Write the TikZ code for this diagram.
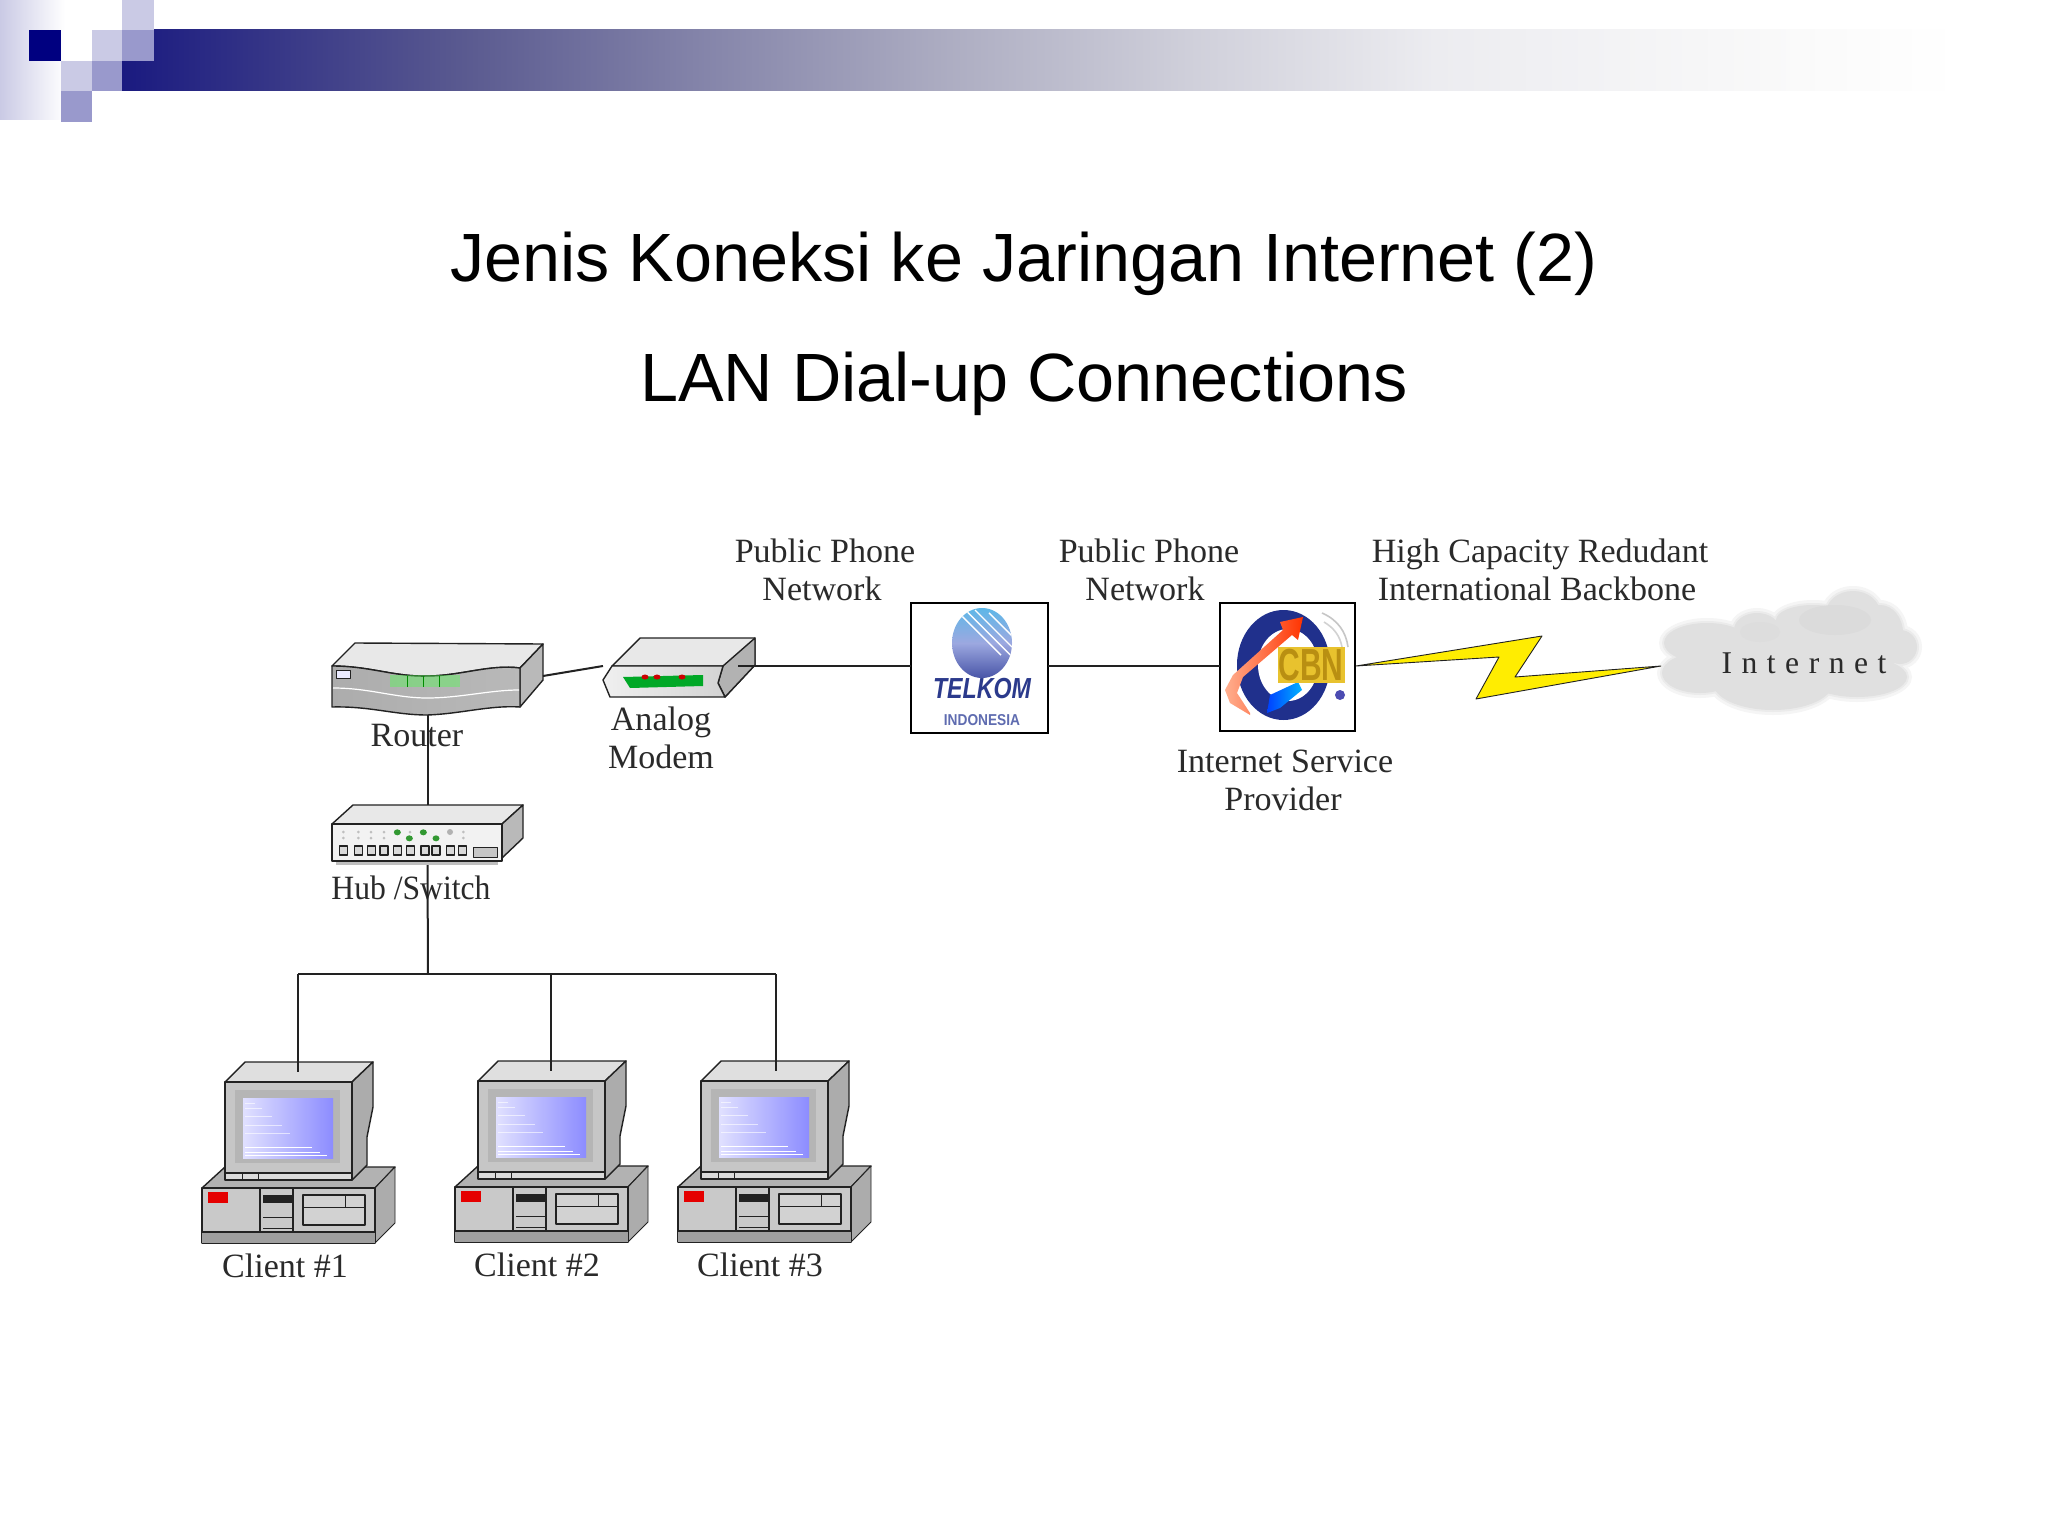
\documentclass[tikz,border=0pt]{standalone}
\usepackage{fontspec}
\setmainfont{Liberation Serif}
\newfontfamily\titlefont{Liberation Sans}
\usetikzlibrary{calc}
\definecolor{navy}{HTML}{000080}
\definecolor{lightsq}{HTML}{CACAE5}
\definecolor{midsq}{HTML}{9999CC}
\definecolor{ink}{HTML}{222222}
\definecolor{txt}{HTML}{2A2A2A}
\definecolor{bna}{HTML}{1A1A80}
\definecolor{bnb}{HTML}{5A5A90}
\definecolor{bnc}{HTML}{8585AA}
\definecolor{bnd}{HTML}{ADADC2}
\definecolor{bne}{HTML}{CFCFDA}
\definecolor{bnf}{HTML}{ECECF0}
\definecolor{bng}{HTML}{FAFAFA}
\definecolor{telkomdark}{HTML}{2B3A8C}
\definecolor{telkomlight}{HTML}{5F6CB0}
\definecolor{globetop}{HTML}{5AB8E8}
\definecolor{globemid}{HTML}{9CA8E0}
\definecolor{globebot}{HTML}{4450A4}
\definecolor{cbnyellow}{HTML}{E8C22E}
\definecolor{cbntext}{HTML}{B98F12}
\definecolor{ringblue}{HTML}{20308C}
\pgfdeclarehorizontalshading{bannerfade}{100bp}{color(0bp)=(bna); color(25bp)=(bna); color(34.3bp)=(bnb); color(40.9bp)=(bnc); color(47.5bp)=(bnd); color(54bp)=(bne); color(60.7bp)=(bnf); color(70.6bp)=(bng); color(75bp)=(white); color(100bp)=(white)}
\pgfdeclareverticalshading{globefade}{100bp}{color(0bp)=(globebot); color(25bp)=(globebot); color(50bp)=(globemid); color(75bp)=(globetop); color(100bp)=(globetop)}
\tikzset{
  devbox/.style 2 args={minimum width=#1*0.5mm,minimum height=#2*0.5mm,inner sep=0pt,outer sep=0pt},
  wire/.style={draw=ink,line width=1mm},
  outline/.style={draw=ink,line width=0.7mm,line join=round},
  thin outline/.style={draw=ink,line width=0.45mm,line join=round},
  lbl/.style={text=txt,inner sep=0pt,anchor=base,font=\fontsize{48.4}{50}\selectfont},
  titletext/.style={text=black,inner sep=0pt,anchor=base,font=\titlefont\fontsize{97.2}{100}\selectfont},
  logobox/.style 2 args={devbox={#1}{#2},draw=black,line width=1mm,fill=white},
  pcunit/.pic={
    \path[outline,fill=gray!60] (225,1167) -- (202,1188) -- (375,1188) -- (395,1167) -- cycle;
    \path[thin outline,fill=gray!65] (375,1188) -- (395,1167) -- (395,1223) -- (375,1243) -- cycle;
    \path[outline,fill=gray!42] (202,1188) rectangle (375,1243);
    \fill[gray!75] (202,1232) rectangle (375,1243);
    \draw[outline] (202,1232) -- (375,1232);
    \fill[red!90!black] (208,1192) rectangle (228,1203);
    \draw[outline] (260,1188) -- (260,1232);
    \draw[outline] (293,1188) -- (293,1232);
    \fill[ink] (263,1195) rectangle (292,1203);
    \draw[thin outline] (263,1217) -- (293,1217) (263,1228) -- (293,1228);
    \path[outline,fill=gray!35] (303,1195) rectangle (365,1225);
    \draw[thin outline] (303,1207) -- (365,1207) (345,1195) -- (345,1207);
    \path[outline,fill=gray!25] (245,1062) -- (225,1082) -- (352,1082) -- (373,1062) -- cycle;
    \path[outline,fill=gray!65] (352,1082) -- (373,1062) -- (373,1107) -- (367,1137) -- (367,1165) -- (352,1180) -- cycle;
    \path[outline,fill=gray!45] (225,1082) rectangle (352,1173);
    \path[outline,fill=gray!28] (225,1173) rectangle (352,1180);
    \draw[thin outline] (242,1173) -- (242,1180) (258,1173) -- (258,1180);
    \fill[gray!58] (235,1090) rectangle (340,1163);
    \shade[left color=blue!12!white,right color=blue!45!white] (243,1098) rectangle (333,1158);
    \draw[white,line width=0.5mm] (245,1147) -- (312,1147) (245,1152) -- (320,1152) (245,1155) -- (327,1155);
    \draw[white,opacity=.6,line width=0.4mm] (245,1103) -- (255,1103) (245,1108) -- (262,1108) (245,1116) -- (272,1116) (245,1125) -- (282,1125) (245,1133) -- (290,1133);
    \node[devbox={193}{181}] (-box) at (298.5,1152.5) {};
    \coordinate (-top) at (298,1072);
  }
}
\begin{document}
\begin{tikzpicture}[x=0.5mm,y=-0.5mm]
\useasboundingbox (0,0) rectangle (2048,1536);
\fill[white] (0,0) rectangle (2048,1536);
% --- slide decoration
\shade[left color=lightsq,right color=white] (0,0) rectangle (65,120);
\shade[shading=bannerfade] (122,30) rectangle (1960,91);
\fill[navy] (29,30) rectangle (61,61);
\fill[lightsq] (122,0) rectangle (154,30);
\fill[midsq] (122,30) rectangle (154,61);
\fill[lightsq] (92,30) rectangle (122,61);
\fill[lightsq] (61,61) rectangle (92,91);
\fill[midsq] (92,61) rectangle (122,91);
\fill[midsq] (61,91) rectangle (92,122);
% --- title
\node[titletext] (title1) at (1024,282) {Jenis Koneksi ke Jaringan Internet (2)};
\node[titletext] (title2) at (1024,401) {LAN Dial-up Connections};
% --- anchors for devices
\node[devbox={211}{72}] (router) at (437.5,679) {};
\node[devbox={152}{60}] (modem) at (679,666) {};
\node[devbox={191}{60}] (switch) at (427.5,835) {};
\coordinate (bus) at (428,974);
% --- cloud
\foreach \lay/\gr/\gap in {1/8/5,2/16/2,3/24/0} {
  \foreach \cx/\cy/\rx/\ry in {1707/643/43/20,1757/630/23/17,1813/620/37/15,1853/613/27/22,1880/633/23/28,1900/647/17/17,1857/677/50/20,1773/683/60/27,1700/673/38/20,1807/653/93/30}
    \fill[gray!\gr] (\cx,\cy) ellipse [x radius=\rx+\gap,y radius=\ry+\gap];
}
\fill[gray!28] (1835,620) ellipse [x radius=36,y radius=15];
\fill[gray!27] (1760,632) ellipse [x radius=20,y radius=10];
\node[devbox={255}{120}] (cloud) at (1789,651) {};
\node[lbl,font=\fontsize{45}{47}\selectfont\addfontfeature{LetterSpace=30}] (internet) at (1804,673) {Internet};
% --- router
\path[outline,fill=gray!18] (332,666) -- (355,643) -- (543,644) -- (520,668) .. controls (490,664) and (460,676) .. (427,676) .. controls (395,677) and (370,666) .. cycle;
\path[outline,fill=gray!55] (520,668) -- (543,644) -- (543,680) -- (520,707) -- cycle;
\path[outline,left color=gray!65,middle color=gray!12,right color=gray!55] (332,666) .. controls (370,666) and (395,677) .. (427,676) .. controls (460,676) and (490,664) .. (520,668) -- (520,707) .. controls (490,705) and (460,714) .. (427,715) .. controls (395,715) and (370,706) .. (332,707) -- cycle;
\draw[white,line width=0.6mm] (333,688) .. controls (370,688) and (395,698) .. (427,698) .. controls (460,698) and (490,690) .. (519,690);
\path[thin outline,fill=blue!8] (336,670) rectangle (350,678);
\fill[green!70!white,opacity=.4] (390,675) rectangle (460,687);
\foreach \x in {407,423,439} \draw[green!55!black,line width=0.5mm] (\x,676) -- (\x,687);
% --- modem
\path[outline,fill=gray!18] (612,666) -- (640,638) -- (755,638) -- (755,665) -- (725,697) -- (718,683) -- (723,666) -- cycle;
\path[outline,fill=gray!60] (723,666) -- (755,638) -- (755,665) -- (725,697) -- (718,683) -- cycle;
\path[outline,left color=gray!12,right color=gray!35] (612,666) -- (723,666) -- (718,683) -- (725,697) -- (610,697) -- (603,680) -- cycle;
\fill[green!60!black!85!cyan] (623,677) -- (703,675) -- (703,686) -- (630,688) -- cycle;
\foreach \x in {645,657,682} \fill[red!80!black] (\x,677) ellipse [x radius=3.5,y radius=2.5];
% --- switch
\path[outline,fill=gray!18] (332,824) -- (353,805) -- (523,805) -- (502,824) -- cycle;
\path[outline,fill=gray!55] (502,824) -- (523,805) -- (523,838) -- (502,858) -- cycle;
\fill[gray!50] (336,861) rectangle (498,865);
\path[outline,fill=gray!10] (332,824) rectangle (502,861);
\foreach \z in {100,145,183,222,300,460} {
  \fill[gray!50] (310+\z/3,832) circle [radius=1.5];
  \fill[gray!50] (310+\z/3,838) circle [radius=1.5];
}
\foreach \z/\w in {262/697,340/697,378/715,298/715} \fill[green!50!black!80] (310+\z/3,600+\w/3) ellipse [x radius=3.5,y radius=3];
\fill[gray!60] (450,832) circle [radius=3];
\foreach \z in {100,145,185,222,262,302,345,378,422,458}
  \path[outline,fill=gray!30] (306+\z/3,846) rectangle (314+\z/3,855);
\path[thin outline,fill=gray!45] (473,847) rectangle (497,857);
% --- clients
\pic (pca) at (0,0) {pcunit};
\pic (pcb) at (253,-1) {pcunit};
\pic (pcc) at (476,-1) {pcunit};
\coordinate (dropc) at ($(pcc-top)+(2,0)$);
% --- Telkom
\node[logobox={137}{130}] (telkom) at (979.5,668) {};
\begin{scope}
  \clip (982,643) ellipse [x radius=30,y radius=35];
  \shade[shading=globefade] (950,606) rectangle (1014,680);
  \foreach \d in {-34,-22,-10,4,18} \draw[white,line width=0.7mm] (985+\d,612+\d*0.2) -- ++(50,50);
\end{scope}
\node[inner sep=0pt,text=telkomdark,font=\titlefont\bfseries\itshape\fontsize{33}{34}\selectfont,text height=1.1em,text depth=0pt] (telkomname) at (982,695) {\scalebox{1}[1.25]{TELKOM}};
\node[inner sep=0pt,text=telkomlight,font=\titlefont\bfseries\fontsize{19.5}{22}\selectfont] (telkomsub) at (982,720) {\scalebox{1}[1.15]{INDONESIA}};
% --- CBN
\node[logobox={135}{128}] (isp) at (1287.5,667) {};
\draw[gray!45,line width=0.8mm] (1322,613) .. controls (1338,620) and (1346,632) .. (1348,647);
\draw[gray!35,line width=0.8mm] (1324,622) .. controls (1334,628) and (1340,636) .. (1342,647);
\fill[ringblue] (1283.5,665) ellipse [x radius=46.5,y radius=55];
\fill[white] (1288,665) ellipse [x radius=30,y radius=36];
\shade[left color=blue!75!cyan,right color=cyan!70!blue] (1267,713) -- (1270,695) -- (1298,682) -- (1302,690) -- (1280,708) -- cycle;
\shade[shading angle=50,left color=orange!25!pink,right color=red!60!orange] (1250,715) -- (1230,703) -- (1225,690) -- (1233,675) -- (1283,630) -- (1280,622) -- (1303,617) -- (1298,640) -- (1292,635) -- (1243,677) -- (1237,693) -- (1250,713) -- cycle;
\fill[cbnyellow] (1278,647) rectangle (1345,683);
\node[inner sep=0pt,text=cbntext,font=\titlefont\bfseries\fontsize{71}{72}\selectfont] (cbn) at (1311,665) {\scalebox{.6}[.9]{CBN}};
\fill[blue!40!gray] (1340,695) circle [radius=5];
% --- lightning
\coordinate (boltL) at (1356,666);
\coordinate (boltR) at (1661,666);
\path[thin outline,fill=yellow!95!orange,miter limit=20] (boltL) -- (1542,636) -- (1515,677) -- (boltR) -- (1476,699) -- (1499,657) -- cycle;
% --- labels
\node[lbl] (lblphone1) at (825,562) {Public Phone};
\node[lbl] (lblnet1) at (822,600) {Network};
\node[lbl] (lblphone2) at (1149,562) {Public Phone};
\node[lbl] (lblnet2) at (1145,600) {Network};
\node[lbl] (lblhigh) at (1540,562) {High Capacity Redudant};
\node[lbl] (lblback) at (1537,600) {International Backbone};
\node[lbl] (lblrouter) at (417,746) {Router};
\node[lbl] (lblanalog) at (661,730) {Analog};
\node[lbl] (lblmodem) at (661,768) {Modem};
\node[lbl] (lblisp) at (1285,772) {Internet Service};
\node[lbl] (lblprov) at (1283,810) {Provider};
\node[lbl] (lblhub) at (411,899) {\scalebox{.93}[1]{Hub /Switch}};
\node[lbl] (lblc1) at (285,1277) {Client \#1};
\node[lbl] (lblc2) at (537,1276) {Client \#2};
\node[lbl] (lblc3) at (760,1276) {Client \#3};
% --- connectors
\draw[wire] (router.east) ++(0,-3) -- (modem.west);
\draw[wire] ($(modem.east)+(-17,0)$) -- (modem.east -| telkom.west);
\draw[wire] (telkom.east |- modem.east) -- (isp.west |- modem.east);
\draw[wire] (switch.north |- router.south) -- (switch.north);
\draw[wire] (switch.south) -- (bus);
\draw[wire] (pca-top |- bus) -- (dropc |- bus);
\draw[wire] (pca-top |- bus) -- (pca-top);
\draw[wire] (pcb-top |- bus) -- (pcb-top);
\draw[wire] (dropc |- bus) -- (dropc);
\end{tikzpicture}
\end{document}
